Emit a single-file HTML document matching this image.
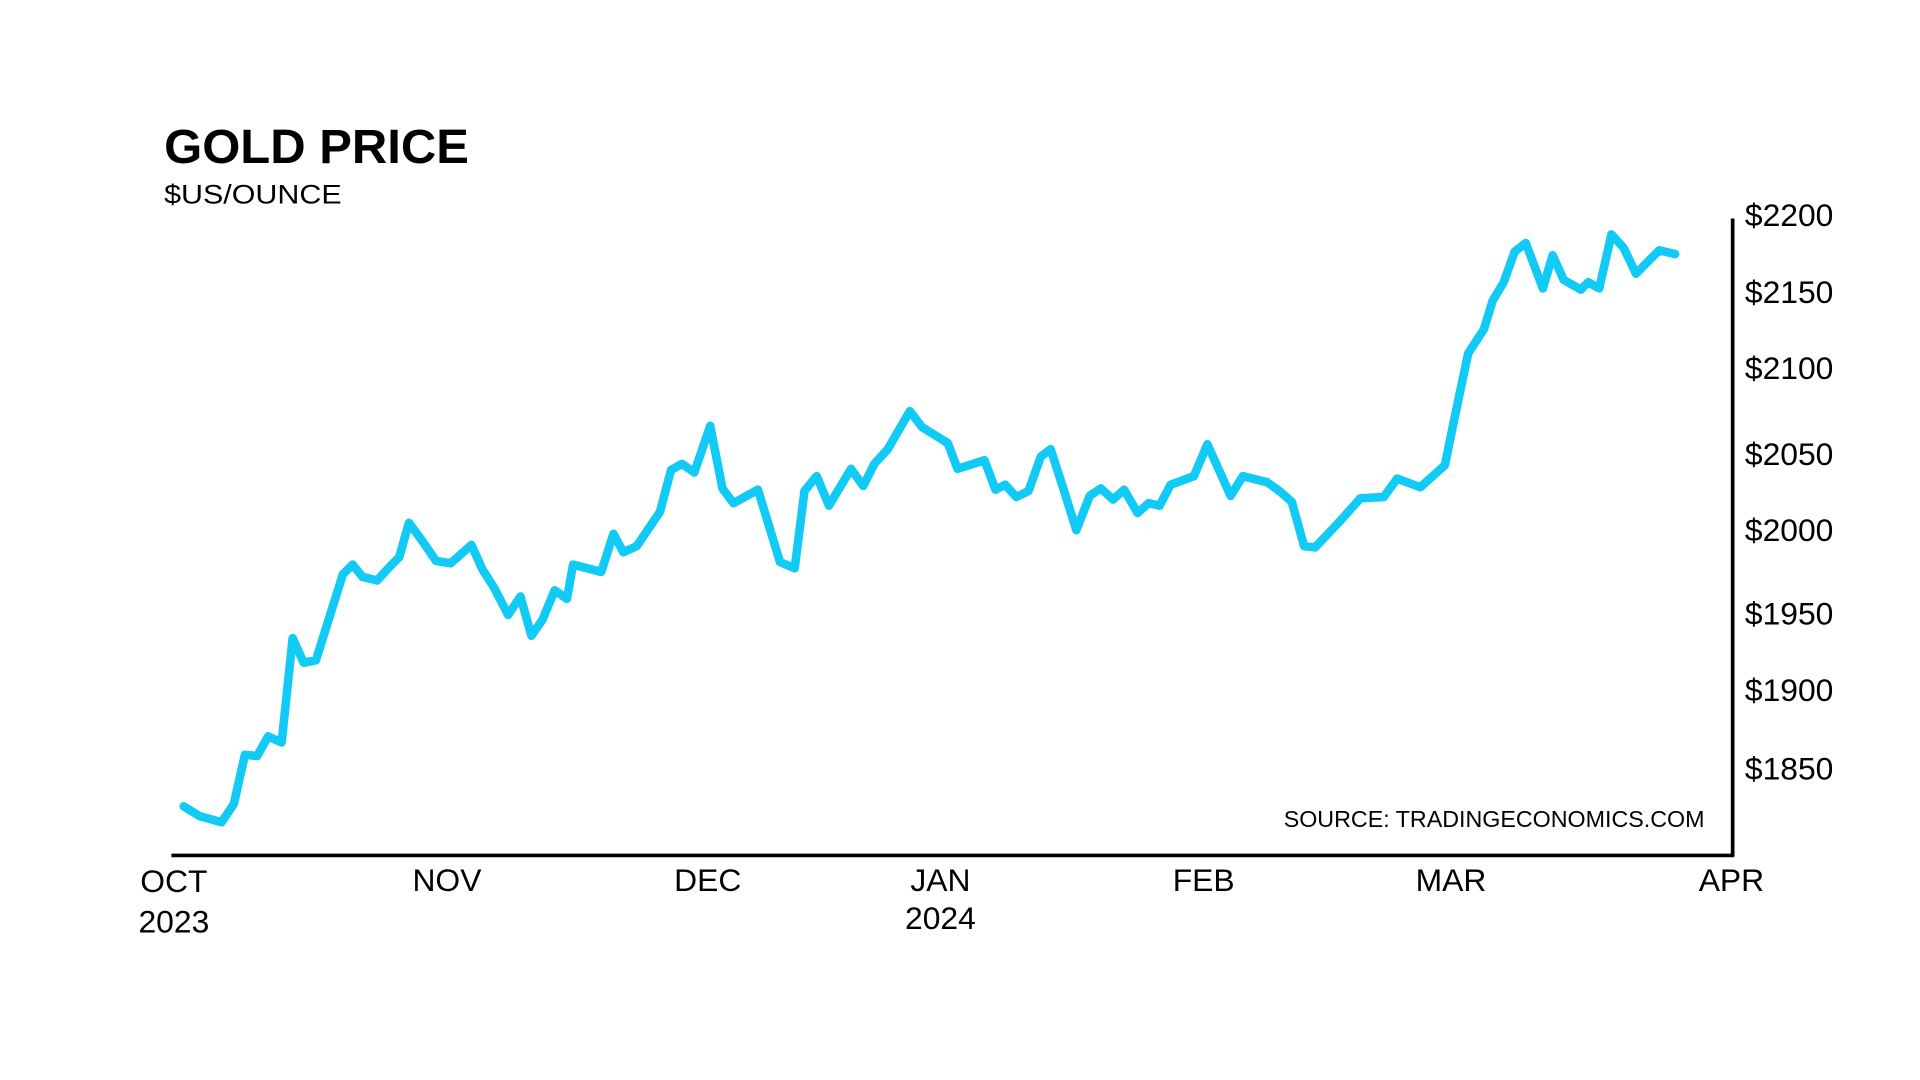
<!DOCTYPE html>
<html><head><style>html,body{margin:0;padding:0;background:#fff}svg{display:block}</style></head>
<body>
<svg width="1920" height="1080" viewBox="0 0 1568 880" preserveAspectRatio="none" xmlns="http://www.w3.org/2000/svg" font-family="Liberation Sans, sans-serif">
<rect width="1568" height="880" fill="#fff"/>
<text x="134" y="133" font-size="39" font-weight="bold" fill="#000" textLength="249" lengthAdjust="spacingAndGlyphs">GOLD PRICE</text>
<text x="134" y="166" font-size="22" fill="#000" textLength="145" lengthAdjust="spacingAndGlyphs">$US/OUNCE</text>
<line x1="1415" y1="178" x2="1415" y2="698" stroke="#000" stroke-width="3"/>
<line x1="140" y1="697" x2="1416" y2="697" stroke="#000" stroke-width="3"/>
<g font-size="26" fill="#000">
<text x="1425" y="184">$2200</text>
<text x="1425" y="247">$2150</text>
<text x="1425" y="309">$2100</text>
<text x="1425" y="379">$2050</text>
<text x="1425" y="441">$2000</text>
<text x="1425" y="509">$1950</text>
<text x="1425" y="571">$1900</text>
<text x="1425" y="635">$1850</text>
</g>
<g font-size="26" fill="#000" text-anchor="middle">
<text x="142" y="727">OCT</text><text x="142" y="760">2023</text>
<text x="365" y="726">NOV</text>
<text x="578" y="726">DEC</text>
<text x="768" y="726">JAN</text><text x="768" y="757">2024</text>
<text x="983" y="726">FEB</text>
<text x="1185" y="726">MAR</text>
<text x="1414" y="726">APR</text>
</g>
<text x="1392" y="674" font-size="19" fill="#000" text-anchor="end">SOURCE: TRADINGECONOMICS.COM</text>
<polyline fill="none" stroke="#12caf6" stroke-width="7" stroke-linejoin="round" stroke-linecap="round" points="150,657 163,665 181,670 191,655 200,615 210,616 219,600 230,605 239,520 248,540 258,538 280,468 288,460 296,470 308,473 318,462 326,454 334,426 345,441 356,457 368,459 385,444 394,464 403,478 415,501 425,486 434,518 443,505 453,481 463,488 468,460 491,466 501,435 509,450 520,445 539,417 548,383 557,378 567,385 580,347 590,398 599,410 619,399 637,458 649,463 657,400 667,388 677,412 695,382 705,396 714,378 725,366 743,335 753,348 774,361 782,382 804,375 813,399 821,395 830,405 840,400 850,372 858,366 869,400 879,432 890,404 899,398 909,407 918,399 929,418 938,410 947,412 956,395 975,388 986,362 1005,404 1015,388 1035,393 1046,401 1055,409 1065,445 1074,446 1093,426 1111,406 1130,405 1141,390 1160,397 1180,379 1188,340 1199,288 1212,268 1219,245 1228,230 1237,205 1246,198 1260,235 1268,208 1277,228 1291,236 1297,230 1306,235 1316,191 1326,202 1336,223 1355,204 1368,207"/>
</svg>
</body></html>
